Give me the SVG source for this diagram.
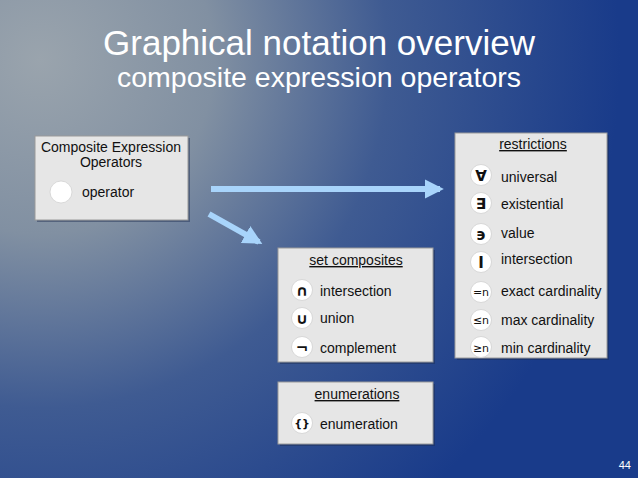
<svg xmlns="http://www.w3.org/2000/svg" width="638" height="478" viewBox="0 0 638 478">
<defs>
<radialGradient id="bg" cx="40" cy="60" r="580" gradientUnits="userSpaceOnUse">
<stop offset="0" stop-color="#9aa4ad"/>
<stop offset="0.3" stop-color="#8190a2"/>
<stop offset="0.6" stop-color="#3f5b92"/>
<stop offset="1" stop-color="#193b8a"/>
</radialGradient>
<marker id="ah" viewBox="0 0 10 10" refX="8" refY="5" markerWidth="3.2" markerHeight="3.2" orient="auto" markerUnits="strokeWidth">
<path d="M0,0 L10,5 L0,10 z" fill="#a8d4fb"/>
</marker>
<style>
.box{fill:#e6e6e6;stroke:#9a9a9a;stroke-width:1}
.sh{fill:#1c2c50;opacity:0.45}
.t{font-family:"Liberation Sans",Arial,sans-serif;font-size:14px;fill:#111}
.h{font-family:"Liberation Sans",Arial,sans-serif;font-size:14px;fill:#111;text-decoration:underline;text-anchor:middle}
.ic{fill:#fff;stroke:#d0d0d0;stroke-width:0.8}
.g{font-family:"DejaVu Sans",sans-serif;font-size:15px;font-weight:bold;fill:#111;text-anchor:middle}
.gs{font-family:"DejaVu Sans",sans-serif;font-size:11px;fill:#111;text-anchor:middle}
.arr{stroke:#a8d4fb;stroke-width:6;fill:none}
</style>
</defs>
<rect width="638" height="478" fill="url(#bg)"/>
<text x="319" y="55" text-anchor="middle" font-family="Liberation Sans,Arial,sans-serif" font-size="35" fill="#fff">Graphical notation overview</text>
<text x="319" y="87" text-anchor="middle" font-family="Liberation Sans,Arial,sans-serif" font-size="28.5" fill="#fff">composite expression operators</text>

<g id="ceo">
<rect class="sh" x="37" y="138" width="153" height="84"/>
<rect class="box" x="35" y="136" width="153" height="84"/>
<text class="t" x="111" y="152" text-anchor="middle">Composite Expression</text>
<text class="t" x="111" y="167" text-anchor="middle">Operators</text>
<circle class="ic" cx="61" cy="192" r="11"/>
<text class="t" x="82" y="197">operator</text>
</g>

<g id="connectors">
<line class="arr" x1="211" y1="189" x2="440" y2="189" marker-end="url(#ah)"/>
<line class="arr" x1="209" y1="214" x2="259" y2="242" marker-end="url(#ah)"/>
</g>

<g id="restrictions">
<rect class="sh" x="457" y="135" width="152" height="225"/>
<rect class="box" x="455" y="133" width="152" height="225"/>
<text class="h" x="533" y="149">restrictions</text>
<circle class="ic" cx="481" cy="175" r="10.5"/><text class="g" x="481" y="181" font-weight="normal">∀</text>
<text class="t" x="501" y="182">universal</text>
<circle class="ic" cx="481" cy="203" r="10.5"/><text class="g" x="481" y="209">∃</text>
<text class="t" x="501" y="209">existential</text>
<circle class="ic" cx="481" cy="234" r="10.5"/><text class="g" x="481" y="240">϶</text>
<text class="t" x="501" y="238">value</text>
<circle class="ic" cx="481" cy="262" r="10.5"/><text class="g" x="481" y="268" font-family="Liberation Serif,serif">I</text>
<text class="t" x="501" y="264">intersection</text>
<circle class="ic" cx="481" cy="292" r="10.5"/><text class="gs" x="481" y="296">=n</text>
<text class="t" x="501" y="296">exact cardinality</text>
<circle class="ic" cx="481" cy="320" r="10.5"/><text class="gs" x="481" y="324">≤n</text>
<text class="t" x="501" y="325">max cardinality</text>
<circle class="ic" cx="481" cy="347" r="10.5"/><text class="gs" x="481" y="352" font-size="13">≥n</text>
<text class="t" x="501" y="353">min cardinality</text>
</g>

<g id="setcomposites">
<rect class="sh" x="280" y="250" width="155" height="114"/>
<rect class="box" x="278" y="248" width="155" height="114"/>
<text class="h" x="356" y="265">set composites</text>
<circle class="ic" cx="302" cy="290" r="10.5"/><text class="g" x="302" y="296" font-size="17">∩</text>
<text class="t" x="320" y="296">intersection</text>
<circle class="ic" cx="302" cy="318" r="10.5"/><text class="g" x="302" y="324" font-size="17">∪</text>
<text class="t" x="320" y="323">union</text>
<circle class="ic" cx="302" cy="347" r="10.5"/><text class="g" x="302" y="353">¬</text>
<text class="t" x="320" y="353">complement</text>
</g>

<g id="enumerations">
<rect class="sh" x="280" y="384" width="155" height="62"/>
<rect class="box" x="278" y="382" width="155" height="62"/>
<text class="h" x="357" y="399">enumerations</text>
<circle class="ic" cx="302" cy="423" r="10.5"/><text class="gs" x="302" y="427" font-weight="bold">{}</text>
<text class="t" x="320" y="429">enumeration</text>
</g>

<text x="631" y="469" text-anchor="end" font-family="Liberation Sans,Arial,sans-serif" font-size="11" fill="#fff">44</text>
</svg>
